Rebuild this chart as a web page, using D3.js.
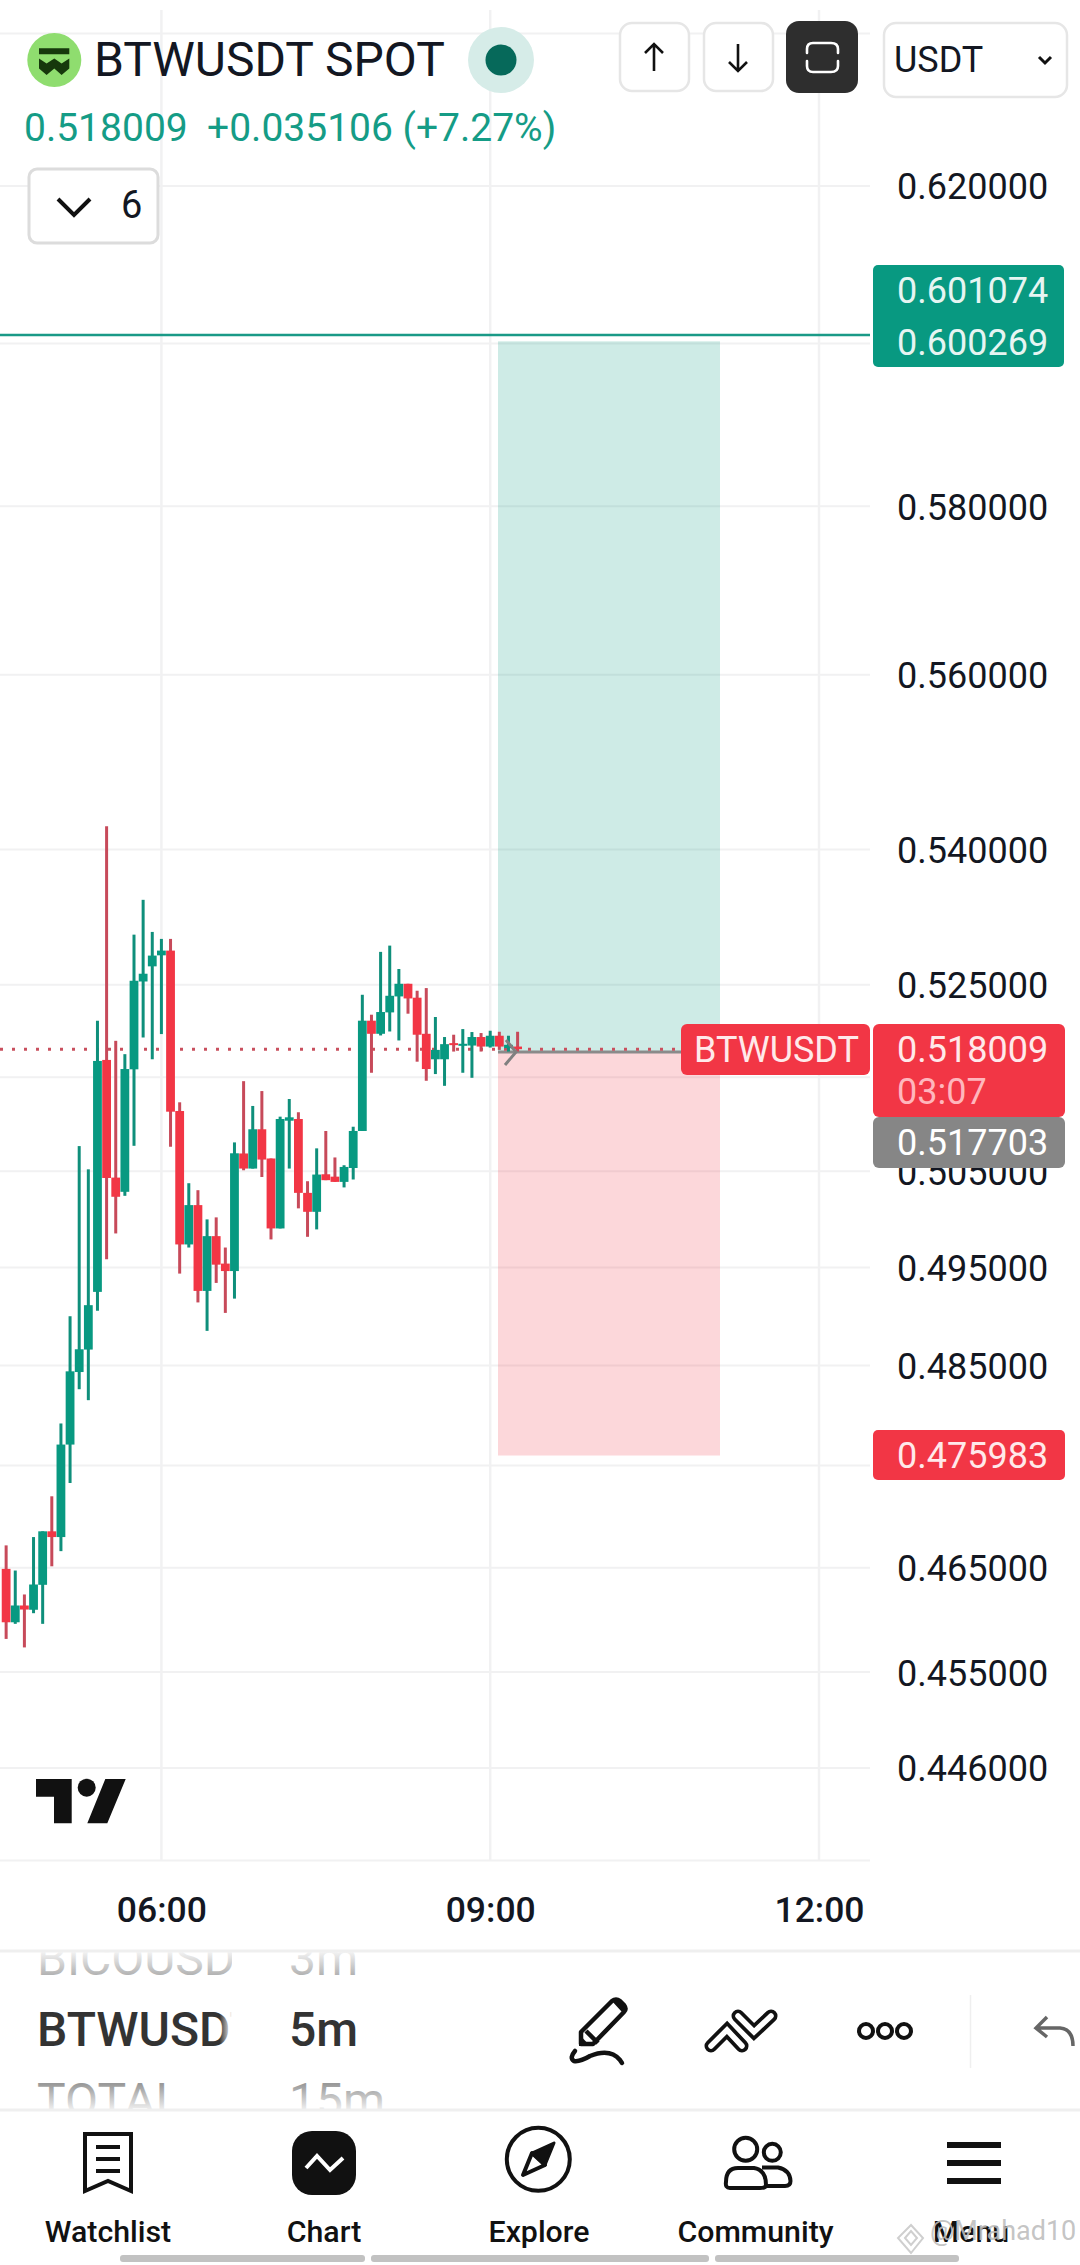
<!DOCTYPE html>
<html><head><meta charset="utf-8">
<script src="https://cdn.jsdelivr.net/npm/d3@7/dist/d3.min.js"></script>
<style>html,body{margin:0;padding:0;background:#fff}svg{display:block}text{font-family:Roboto,sans-serif}</style>
</head><body><div id="c"></div>
<script>
const W=1080,H=2265;
// candle data (5 minute candles), first candle opens 04:35
const startMinute=275, stepMinutes=5;
const opens =[.46488,.45974,.46135,.46094,.46334,.46853,.46797,.47707,.48433,.4866,.49248,.51685,.50434,.50285,.51584,.52536,.52702,.52823,.52875,.51138,.49737,.50146,.49258,.49823,.49539,.49462,.50688,.50529,.50944,.50635,.49903,.51035,.51053,.50274,.50076,.50469,.50444,.50389,.50535,.50926,.52109,.51967,.52199,.52373,.52511,.52359,.51967,.51692,.51692,.51866,.51837,.5184,.51932,.51829,.51946,.51812,.51829];
const highs =[.46716,.46472,.46241,.46797,.46853,.47196,.47917,.48999,.50766,.50521,.52109,.54262,.51891,.51747,.53051,.53437,.53081,.53004,.53004,.51231,.50375,.50302,.49997,.50018,.49705,.50805,.51457,.51192,.51351,.50635,.51078,.51266,.51125,.50396,.50742,.50926,.50646,.50564,.50971,.52391,.52174,.52861,.5293,.52673,.52511,.52435,.52464,.52149,.51932,.51957,.52018,.51986,.51975,.5200,.51989,.51946,.51989];
const lows  =[.45815,.45959,.45734,.46061,.45959,.46513,.4666,.47327,.4826,.4815,.49054,.49583,.49851,.50243,.50769,.51927,.51692,.51964,.50759,.49436,.49705,.4914,.4885,.4934,.49033,.49179,.50511,.50529,.5044,.49789,.49903,.50529,.50112,.49816,.49893,.50407,.50389,.50331,.50414,.50926,.51547,.51949,.51992,.51895,.52185,.51666,.51461,.51533,.51407,.51775,.51547,.51493,.51775,.51818,.51793,.51775,.51775];
const closes=[.45974,.46135,.46096,.46337,.46853,.46797,.47707,.4844,.48663,.49112,.51674,.5043,.50233,.51587,.52544,.52621,.5282,.52875,.51131,.49737,.50146,.49258,.49823,.49528,.49462,.5069,.50529,.50944,.50624,.49903,.51053,.51071,.50274,.50076,.50466,.50407,.50389,.50546,.50926,.52109,.51967,.52203,.5238,.52511,.52351,.51957,.51587,.51793,.51855,.51845,.51859,.51932,.51829,.51946,.51829,.51848,.518009];
// axis
const priceLabels=[.62,.58,.56,.54,.525,.505,.495,.485,.465,.455,.446];
const gridPrices=[.64,.62,.6,.58,.56,.54,.525,.515,.505,.495,.485,.475,.465,.455,.446,.4375];
const timeTicks=[360,540,720];
const timeLabels=["06:00","09:00","12:00"];
// position tool
const targetPrice=.601074, boxTop=.600269, entryPrice=.517703, stopPrice=.475983, lastPrice=.518009;
const symbol="BTWUSDT SPOT", legendText="0.518009  +0.035106 (+7.27%)", countdown="03:07";
const watchRows=[["BICOUSD","3m"],["BTWUSDT","5m"],["TOTAL","15m"]];
const navLabels=["Watchlist","Chart","Explore","Community","Menu"];

const GREEN="#089981",RED="#f23645",WG="#0f8f7b",WR="#c74a5a",GRID="#f1f1f2",INK="#131722";
const x=d3.scaleLinear().domain([360,720]).range([161.4,819]);
const y=d3.scaleLog().domain([.62,.446]).range([186,1768]);
const svg=d3.select("#c").append("svg").attr("width",W).attr("height",H).attr("viewBox",`0 0 ${W} ${H}`);
const defs=svg.append("defs");
const lg=(id,x1,y1,x2,y2,stops)=>{const g=defs.append("linearGradient").attr("id",id).attr("gradientUnits","userSpaceOnUse").attr("x1",x1).attr("y1",y1).attr("x2",x2).attr("y2",y2);stops.forEach(s=>g.append("stop").attr("offset",s[0]).attr("stop-color",s[1]));};
lg("fadeTop",0,1952,0,1978,[[0,"#f2f2f2"],[1,"#aaaaaa"]]);
lg("fadeBot",0,2084,0,2110,[[0,"#999"],[1,"#f0f0f0"]]);
lg("fadeMid",170,0,232,0,[[0,"#333"],[.8,"#333"],[1,"#ffffff"]]);
defs.append("clipPath").attr("id","rowClip").append("rect").attr("x",0).attr("y",1952).attr("width",W).attr("height",157);
defs.append("clipPath").attr("id","nameClip").append("rect").attr("x",0).attr("y",1952).attr("width",232).attr("height",157);

svg.append("rect").attr("width",W).attr("height",H).attr("fill","#fff");
// grid
svg.append("g").selectAll("line").data(gridPrices).join("line")
 .attr("x1",0).attr("x2",870).attr("y1",d=>y(d)).attr("y2",d=>y(d)).attr("stroke",GRID).attr("stroke-width",2);
svg.append("g").selectAll("line").data(timeTicks).join("line")
 .attr("x1",d=>x(d)).attr("x2",d=>x(d)).attr("y1",10).attr("y2",1860).attr("stroke",GRID).attr("stroke-width",2.5);
// position boxes
svg.append("rect").attr("x",498).attr("width",222).attr("y",y(boxTop)).attr("height",y(entryPrice)-y(boxTop)).attr("fill",GREEN).attr("fill-opacity",.2);
svg.append("rect").attr("x",498).attr("width",222).attr("y",y(entryPrice)).attr("height",y(stopPrice)-y(entryPrice)).attr("fill",RED).attr("fill-opacity",.2);
svg.append("line").attr("x1",498).attr("x2",720).attr("y1",y(entryPrice)).attr("y2",y(entryPrice)).attr("stroke","#8a8a8a").attr("stroke-width",3);
// target line
svg.append("line").attr("x1",0).attr("x2",870).attr("y1",y(targetPrice)).attr("y2",y(targetPrice)).attr("stroke","#1a9a87").attr("stroke-width",2.5);
// last price dotted
svg.append("line").attr("x1",0).attr("x2",681).attr("y1",y(lastPrice)).attr("y2",y(lastPrice)).attr("stroke","#c9505e").attr("stroke-width",3).attr("stroke-dasharray","3 9");
// candles
const idx=d3.range(opens.length);
const cx=i=>x(startMinute+i*stepMinutes);
const up=i=>closes[i]>=opens[i];
const g=svg.append("g");
g.selectAll("line").data(idx).join("line").attr("x1",cx).attr("x2",cx).attr("y1",i=>y(highs[i])).attr("y2",i=>y(lows[i]))
 .attr("stroke",i=>up(i)?WG:WR).attr("stroke-width",3);
g.selectAll("rect").data(idx).join("rect").attr("x",i=>cx(i)-4.4).attr("width",8.8)
 .attr("y",i=>y(Math.max(opens[i],closes[i]))).attr("height",i=>Math.max(2,Math.abs(y(opens[i])-y(closes[i]))))
 .attr("fill",i=>up(i)?GREEN:RED);
// chevron marker
svg.append("polyline").attr("points","506,1040 516,1052 505,1065").attr("fill","none").attr("stroke","#808080").attr("stroke-width",3);
// axes
const ax=svg.append("g").attr("transform","translate(897,0)").call(d3.axisRight(y).tickValues(priceLabels).tickFormat(d3.format(".6f")).tickSize(0).tickPadding(0));
ax.select(".domain").remove();
ax.selectAll("text").attr("font-size",36).attr("font-family","Roboto").attr("fill",INK).attr("dy",".36em");
const bx=svg.append("g").attr("transform","translate(0,1909)").call(d3.axisBottom(x).tickValues(timeTicks).tickFormat((d,i)=>timeLabels[i]).tickSize(0).tickPadding(0));
bx.select(".domain").remove();
bx.selectAll("text").attr("font-size",35.5).attr("font-weight",500).attr("font-family","Roboto").attr("fill",INK).attr("dy",".36em").attr("y",0);
// price flags
const flag=(x0,y0,w,h,c,r)=>svg.append("rect").attr("x",x0).attr("y",y0).attr("width",w).attr("height",h).attr("rx",r||6).attr("fill",c);
const txt=(s,x0,yb,fs,c,o={})=>{const t=svg.append("text").attr("x",x0).attr("y",yb).attr("font-size",fs).attr("fill",c).text(s);Object.entries(o).forEach(([k,v])=>t.attr(k,v));return t;};
flag(873,265,191,102,GREEN,5);
txt(d3.format(".6f")(targetPrice),897,303,36,"#e6f5f2");
txt(d3.format(".6f")(boxTop),897,355,36,"#e6f5f2");
flag(873,1117,192,51,"#868686",6);
flag(873,1024,192,93,RED,6);
txt(d3.format(".6f")(lastPrice),897,1062,36,"#ffe9ea");
txt(countdown,897,1104,36,"#ffb6bd");
txt(d3.format(".6f")(entryPrice),897,1155,36,"#fff");
flag(681,1024,189,51,RED,6);
txt("BTWUSDT",694,1062,36,"#ffe9ea");
flag(873,1430,192,50,RED,5);
txt(d3.format(".6f")(stopPrice),897,1468,36,"#ffe9ea");
// TV logo
svg.append("path").attr("fill","#111").attr("d","M36 1779H71.7V1823.3H54V1796.7H36Z M105.3 1779H125.7L107.3 1823.3H87.3Z");
svg.append("circle").attr("cx",86.7).attr("cy",1787.7).attr("r",9).attr("fill","#111");
// header
svg.append("circle").attr("cx",54.3).attr("cy",60).attr("r",27).attr("fill","#8fdd6f");
svg.append("path").attr("fill","#16380c").attr("d","M39 48.3H69.3V54.3H39Z M39 58.5L46.6 63.5L54.3 58.5L61.6 63.5L69.3 58.5V68.5L61.6 75L54.3 68.5L46.6 75L39 68.5Z");
txt(symbol,94,76,48,INK);
svg.append("circle").attr("cx",501).attr("cy",60).attr("r",33).attr("fill","#d6ecE8");
svg.append("circle").attr("cx",501).attr("cy",60).attr("r",15.5).attr("fill","#06695a");
txt(legendText,24,141,39,"#159c86",{"xml:space":"preserve"}).style("white-space","pre");
const btn=(x0,y0,w,h,r)=>svg.append("rect").attr("x",x0).attr("y",y0).attr("width",w).attr("height",h).attr("rx",r).attr("fill","#fff").attr("stroke","#e6e6e6").attr("stroke-width",2.5);
btn(620,23,69,68,12);btn(704,23,69,68,12);btn(884,23,183,74,12);
flag(786,21,72,72,"#2e2e2e",13);
svg.append("path").attr("fill","none").attr("stroke","#111").attr("stroke-width",2.6).attr("d","M654 71V44M645 53L654 44L663 53 M738 44V71M729 62L738 71L747 62");
svg.append("path").attr("fill","none").attr("stroke","#fff").attr("stroke-width",2.6).attr("stroke-linecap","round").attr("d","M807 53V49Q807 43 813 43H831Q838 43 838 49V53 M807 61V66Q807 72 813 72H831Q838 72 838 66V61");
txt("USDT",894,72,36,INK);
svg.append("path").attr("fill","none").attr("stroke","#111").attr("stroke-width",3).attr("d","M1039 57L1045 63L1051 57");
btn(29,169,129,74,8).attr("stroke","#dcdcdc").attr("stroke-width",3);
svg.append("path").attr("fill","none").attr("stroke","#111").attr("stroke-width",4).attr("d","M58 199L74 215L90 199");
txt("6",121,218,38,INK);
// dividers
svg.append("line").attr("x1",0).attr("x2",W).attr("y1",1951).attr("y2",1951).attr("stroke","#efefef").attr("stroke-width",3);
svg.append("line").attr("x1",0).attr("x2",W).attr("y1",2110).attr("y2",2110).attr("stroke","#efefef").attr("stroke-width",3);
// watch rows
const rows=svg.append("g").attr("clip-path","url(#rowClip)");
const rowY=[1975,2046,2117], rowFill=["url(#fadeTop)","#333","url(#fadeBot)"];
const names=svg.append("g").attr("clip-path","url(#nameClip)");
watchRows.forEach((r,i)=>{
 names.append("text").attr("x",37).attr("y",rowY[i]).attr("font-size",48).attr("font-weight",i==1?500:400).attr("fill",i==1?"url(#fadeMid)":rowFill[i]).text(r[0]);
 rows.append("text").attr("x",289).attr("y",rowY[i]).attr("font-size",48).attr("font-weight",i==1?500:400).attr("fill",rowFill[i]).text(r[1]);
});
// toolbar icons
const ic=svg.append("g").attr("fill","none").attr("stroke","#111").attr("stroke-width",4.5);
ic.append("path").attr("stroke-linejoin","round").attr("d","M581 2044V2032L612 2001Q616 1998 620 2001L624 2005Q627 2009 624 2012L593 2044Z M586 2031L598 2043 M614 2000L625 2012");
ic.append("path").attr("fill","#111").attr("stroke","none").attr("d","M579 2046V2034L590 2046Z");
ic.append("path").attr("stroke-linecap","round").attr("d","M575 2051Q569 2058 574 2061Q580 2062 590 2056Q610 2048 620 2060L622 2063");
["M711 2046L727 2030L742 2046","M738 2016L754 2032L771 2016"].forEach(p=>{
 svg.append("path").attr("d",p).attr("fill","none").attr("stroke","#111").attr("stroke-width",13).attr("stroke-linecap","round").attr("stroke-linejoin","miter");
 svg.append("path").attr("d",p).attr("fill","none").attr("stroke","#fff").attr("stroke-width",5.5).attr("stroke-linecap","round").attr("stroke-linejoin","miter");
});
[866,885,904].forEach(c=>ic.append("circle").attr("cx",c).attr("cy",2031).attr("r",7).attr("stroke-width",4));
svg.append("line").attr("x1",970.5).attr("x2",970.5).attr("y1",1995).attr("y2",2068).attr("stroke","#efefef").attr("stroke-width",1.5);
svg.append("path").attr("fill","none").attr("stroke","#666").attr("stroke-width",3.5).attr("d","M1047 2017L1036 2028L1047 2037 M1036 2028H1060Q1073 2029 1073 2046");
// nav
const nv=svg.append("g").attr("fill","none").attr("stroke","#111").attr("stroke-width",4);
nv.append("path").attr("d","M85 2134H131V2191L108 2181L85 2191Z");
nv.append("path").attr("d","M96 2147H120M96 2159H120M96 2171H120");
svg.append("rect").attr("x",292).attr("y",2131).attr("width",64).attr("height",64).attr("rx",20).attr("fill","#111");
svg.append("path").attr("fill","none").attr("stroke","#fff").attr("stroke-width",4).attr("d","M306 2168L317 2156L330 2170L343 2158");
nv.append("circle").attr("cx",538.3).attr("cy",2159.3).attr("r",31.5);
svg.append("path").attr("fill","#111").attr("stroke","#111").attr("stroke-width",3).attr("stroke-linejoin","round").attr("d","M554 2143L532 2153L545 2165Z");
nv.append("path").attr("stroke-linejoin","round").attr("d","M532 2153L523 2175L545 2165Z");
nv.append("circle").attr("cx",745.7).attr("cy",2149.3).attr("r",11.5);
nv.append("circle").attr("cx",772.3).attr("cy",2152.3).attr("r",8.5);
nv.append("path").attr("d","M726 2182Q726 2168 738 2168H754Q766 2170 766 2185Q766 2188 760 2188H730Q725 2188 726 2182Z");
nv.append("path").attr("d","M762 2167.5H778Q790 2170 790.5 2181Q790.5 2186 785 2186H767");
[2145,2163,2181].forEach(v=>svg.append("rect").attr("x",947).attr("y",v-3).attr("width",54).attr("height",6).attr("fill","#111"));
const navX=[108,324,539,755.5,971];
navLabels.forEach((s,i)=>txt(s,navX[i],2242,30.3,"#111",{"text-anchor":"middle","font-weight":500}));
// watermark
txt("@Mrahad10",930,2240,27,"#bdbdbd",{"fill-opacity":.9});
svg.append("path").attr("fill","none").attr("stroke","#cfcfcf").attr("stroke-width",2).attr("d","M911 2225L923 2238L911 2253L898 2238Z M905 2238L911 2231L917 2238L911 2245Z");
// home bar
[[120,245],[371,338],[715,244]].forEach(b=>svg.append("rect").attr("x",b[0]).attr("y",2255).attr("width",b[1]).attr("height",7).attr("rx",3).attr("fill","#c2c2c2"));
</script></body></html>
